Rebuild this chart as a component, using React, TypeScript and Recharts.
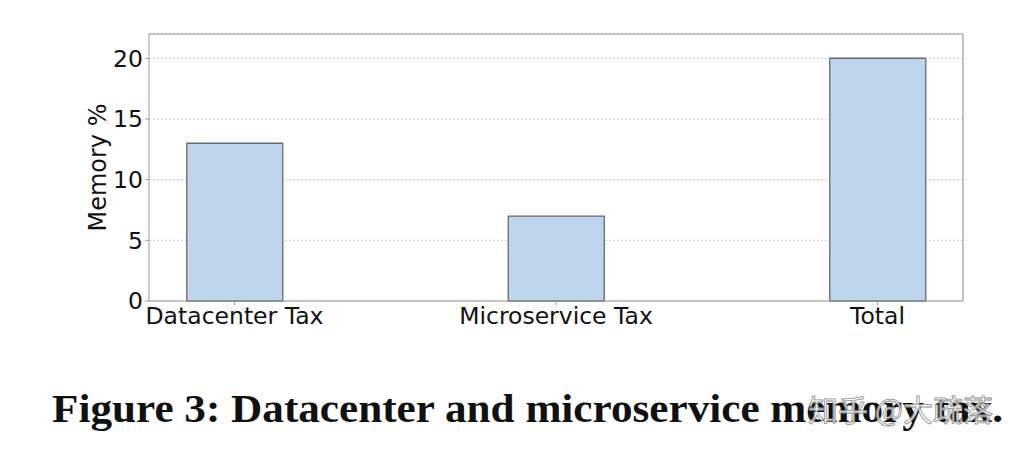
import { BarChart, Bar, XAxis, YAxis, CartesianGrid, ReferenceLine } from 'recharts';

const categories = ['Datacenter Tax', 'Microservice Tax', 'Total'];
const memoryPct = [13, 7, 20];
const yTicks = [0, 5, 10, 15, 20];

const data = categories.map((name, i) => ({ x: i, name, value: memoryPct[i] }));

const FONT = '"DejaVu Sans", sans-serif';
const FRAME = '#9a9a9a';
const X_DOMAIN: [number, number] = [-0.266, 2.266];
const Y_MAX = 22;

export default function App() {
  return (
    <div style={{ position: 'relative', width: 1029, height: 454, background: '#fff', margin: -8 }}>
      <div style={{ position: 'absolute', left: 0, top: 0 }}>
        <BarChart
          width={1029}
          height={341}
          data={data}
          margin={{ top: 34, right: 66, left: 0, bottom: 0 }}
        >
          <CartesianGrid
            horizontal
            vertical={false}
            stroke="#c8c8c8"
            strokeDasharray="2 2"
          />
          <XAxis
            dataKey="x"
            type="number"
            domain={X_DOMAIN}
            ticks={[0, 1, 2]}
            tickFormatter={(v) => categories[v] ?? ''}
            tick={{ fill: '#111', fontSize: 23.5, fontFamily: FONT }}
            tickLine={{ stroke: FRAME }}
            tickSize={4}
            tickMargin={2}
            axisLine={{ stroke: FRAME }}
            height={40}
            allowDataOverflow
            interval={0}
          />
          <YAxis
            domain={[0, Y_MAX]}
            ticks={yTicks}
            tick={{ fill: '#111', fontSize: 23.5, fontFamily: FONT }}
            tickLine={{ stroke: FRAME }}
            tickSize={4}
            tickMargin={2}
            axisLine={{ stroke: FRAME }}
            width={149}
            label={{
              value: 'Memory %',
              angle: -90,
              position: 'insideLeft',
              offset: 97,
              style: { fill: '#111', fontSize: 24, fontFamily: FONT, textAnchor: 'middle' },
            }}
          />
          <Bar
            dataKey="value"
            fill="#bfd5ec"
            stroke="#5c6b7a"
            strokeWidth={1.3}
            barSize={96}
            isAnimationActive={false}
          />
          {/* frame top + right */}
          <ReferenceLine y={Y_MAX} stroke={FRAME} strokeWidth={1.2} />
          <ReferenceLine x={X_DOMAIN[1]} stroke={FRAME} strokeWidth={1.2} />
        </BarChart>
      </div>
      <svg
        width={1029}
        height={454}
        style={{ position: 'absolute', left: 0, top: 0, pointerEvents: 'none' }}
      >
        <text
          x={52}
          y={422}
          textLength={951}
          lengthAdjust="spacingAndGlyphs"
          fontFamily='"Liberation Serif", serif'
          fontWeight="bold"
          fontSize={39}
          fill="#111"
        >
          Figure 3: Datacenter and microservice memory tax.
        </text>
        <text
          x={808}
          y={421}
          fontFamily='"Noto Sans CJK SC", sans-serif'
          fontSize={30}
          fill="#ffffff"
          fillOpacity={0.75}
          stroke="#8a8a8a"
          strokeWidth={0.8}
        >
          知乎 @大疏落
        </text>
      </svg>
    </div>
  );
}
